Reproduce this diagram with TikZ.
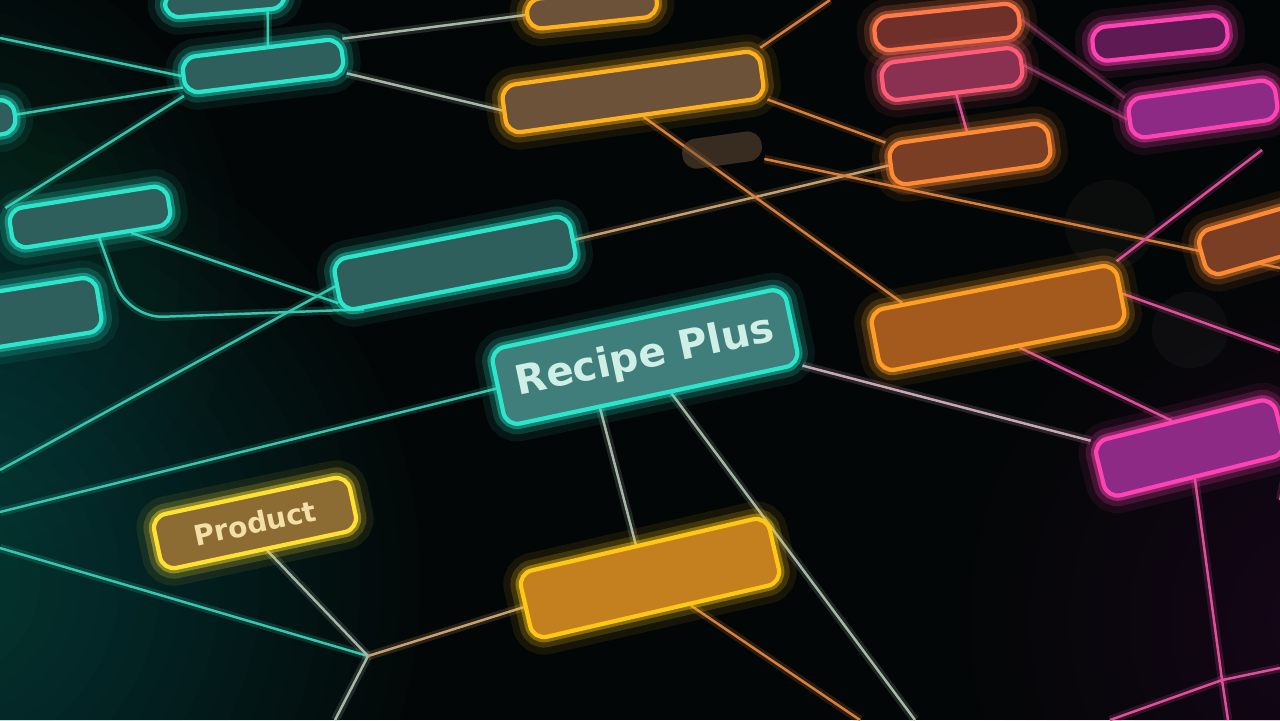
\documentclass[tikz,border=0pt]{standalone}
\usepackage{fontspec}
\setmainfont{DejaVu Sans}
\pgfdeclarelayer{back}
\pgfdeclarelayer{wires}
\pgfsetlayers{back,wires,main}
\definecolor{bgblack}{HTML}{030606}
\definecolor{haze}{HTML}{1A9A8A}
\definecolor{hazep}{HTML}{6A1060}
\definecolor{tealline}{HTML}{2CE6CC}
\definecolor{tealfill}{HTML}{3F7E7A}
\definecolor{tealdark}{HTML}{2F5F5C}
\definecolor{amber}{HTML}{FFB21E}
\definecolor{amberfill}{HTML}{6B5238}
\definecolor{orng}{HTML}{FFA024}
\definecolor{orngfill}{HTML}{A45A1C}
\definecolor{rorng}{HTML}{FF8A34}
\definecolor{rorngfill}{HTML}{7A3E24}
\definecolor{redor}{HTML}{FF7A48}
\definecolor{redorfill}{HTML}{6E3028}
\definecolor{salmon}{HTML}{FF5C78}
\definecolor{salmonfill}{HTML}{8A3050}
\definecolor{hotpink}{HTML}{FF42B4}
\definecolor{pinkfill}{HTML}{8C2A86}
\definecolor{pinkdimfill}{HTML}{5E1A52}
\definecolor{yel}{HTML}{FFE034}
\definecolor{yelfill}{HTML}{8C6C32}
\definecolor{gold}{HTML}{FFC814}
\definecolor{goldfill}{HTML}{C4801F}
\definecolor{wteal}{HTML}{36C8AE}
\definecolor{wgrey}{HTML}{A8B8A8}
\definecolor{wsand}{HTML}{C8A070}
\definecolor{worng}{HTML}{D8803C}
\definecolor{wpink}{HTML}{E0509A}
\definecolor{wrose}{HTML}{C8A8B4}
\tikzset{
  box/.style 2 args={rectangle, rounded corners=4pt, inner sep=0pt, draw=#1, fill=#2, line width=1.2pt,
    preaction={draw=#1, line width=10pt, draw opacity=.08},
    preaction={draw=#1, line width=6pt, draw opacity=.18},
    preaction={draw=#1, line width=3pt, draw opacity=.4}},
  wire/.style={draw=#1, line width=.7pt, preaction={draw=#1, line width=2.4pt, draw opacity=.18}},
  lbl/.style={text=#1, font=\bfseries}
}
\begin{document}
\begin{tikzpicture}[x=0.01cm,y=-0.01cm]
\useasboundingbox (0,0) rectangle (1280,720);
\begin{pgfonlayer}{back}
\fill[bgblack] (0,0) rectangle (1280,720);
\foreach \r in {0.2,0.4,...,4.8} \fill[haze,opacity=.018] (-60,580) circle (\r cm);
\foreach \r in {0.2,0.4,...,3.2} \fill[haze,opacity=.016] (-80,260) circle (\r cm);
\foreach \r in {0.2,0.4,...,3.6} \fill[hazep,opacity=.016] (1330,620) circle (\r cm);
\fill[gray!25!black,opacity=.3] (1110,225) circle (0.45cm);
\fill[gray!25!black,opacity=.3] (1190,330) circle (0.38cm);
\end{pgfonlayer}
\node[box={tealline}{tealfill},minimum width=3cm,minimum height=.78cm,rotate=12] (recipe)at(645,357)
  {\fontsize{11.5}{11.5}\selectfont\color[HTML]{CFEEE6}\bfseries Recipe Plus};
\node[box={tealline}{tealdark},minimum width=2.4cm,minimum height=.52cm,rotate=11] (cb)at(455,263){};
\node[box={tealline}{tealdark},minimum width=1.6cm,minimum height=.4cm,rotate=9] (lnote)at(90,217){};
\node[box={tealline}{tealdark},minimum width=1.5cm,minimum height=.55cm,rotate=9] (lpart)at(25,315){};
\node[box={tealline}{tealdark},minimum width=1.6cm,minimum height=.36cm,rotate=7] (tlteal)at(263,66){};
\node[box={tealline}{tealdark},minimum width=1.2cm,minimum height=.26cm,rotate=5] (ttop)at(225,0){};
\node[box={tealline}{tealdark},minimum width=.4cm,minimum height=.34cm,rotate=8] (ledge)at(-5,118){};
\node[box={amber}{amberfill},minimum width=2.6cm,minimum height=.48cm,rotate=8] (torange)at(633,92){};
\node[box={amber}{amberfill},minimum width=1.3cm,minimum height=.3cm,rotate=6] (tsmall)at(592,8){};
\node[rectangle,rounded corners=4pt,fill=amberfill,opacity=.5,minimum width=.8cm,minimum height=.3cm,rotate=8] (ghost)at(722,150){};
\node[box={orng}{orngfill},minimum width=2.5cm,minimum height=.62cm,rotate=11] (strem)at(998,318){};
\node[box={rorng}{rorngfill},minimum width=1.6cm,minimum height=.42cm,rotate=8] (rorange)at(970,154){};
\node[box={redor}{redorfill},minimum width=1.45cm,minimum height=.34cm,rotate=6] (rtop)at(947,27){};
\node[box={salmon}{salmonfill},minimum width=1.4cm,minimum height=.38cm,rotate=7] (rpink)at(952,74){};
\node[box={hotpink}{pinkdimfill},minimum width=1.35cm,minimum height=.34cm,rotate=6] (rmag)at(1160,38){};
\node[box={hotpink}{pinkfill},minimum width=1.48cm,minimum height=.4cm,rotate=8] (rmagb)at(1203,109){};
\node[box={rorng}{rorngfill},minimum width=1.1cm,minimum height=.46cm,rotate=16] (redge)at(1255,240){};
\node[box={hotpink}{pinkfill},minimum width=1.85cm,minimum height=.58cm,rotate=14] (mag)at(1190,448){};
\node[box={yel}{yelfill},minimum width=2cm,minimum height=.55cm,rotate=12] (product)at(255,523)
  {\fontsize{8}{8}\selectfont\color[HTML]{F5DFA8}\bfseries Product};
\node[box={gold}{goldfill},minimum width=2.55cm,minimum height=.68cm,rotate=13] (bottom)at(650,578){};
\coordinate (e1)at(0,470);
\coordinate (e2)at(0,512);
\coordinate (e3)at(915,720);
\coordinate (e4)at(0,548);
\coordinate (e5)at(335,720);
\coordinate (e6)at(860,720);
\coordinate (e7)at(1280,268);
\coordinate (e8)at(830,0);
\coordinate (e9)at(1262,150);
\coordinate (e10)at(1280,350);
\coordinate (e11)at(1228,720);
\coordinate (e12)at(1110,720);
\coordinate (e13)at(1280,668);
\coordinate (e14)at(1280,500);
\coordinate (e15)at(0,38);
\coordinate (j)at(368,656);
\coordinate (j2)at(1222,680);
\coordinate (kink)at(128,318);
\begin{pgfonlayer}{wires}
\draw[wire=wteal] (cb.west) -- (e1);
\draw[wire=wteal] (recipe.west) -- (e2);
\draw[wire=wteal] (cb.188) -- (lnote.-30);
\draw[wire=wteal,rounded corners=10pt] (lnote.-75) -- (kink) -- (cb.196);
\draw[wire=wteal] (tlteal.west) -- (e15);
\draw[wire=wteal] (tlteal.188) -- (ledge);
\draw[wire=wteal] (tlteal.south west) -- (lnote.north west);
\draw[wire=wteal] (ttop.-20) -- (tlteal.70);
\draw[wire=wteal] (e4) -- (j);
\draw[wire=wgrey] (recipe.-143) -- (bottom.100);
\draw[wire=wgrey] (recipe.-66) -- (e3);
\draw[wire=wrose] (recipe.south east) -- (mag.north west);
\draw[wire=wgrey] (product.-78) -- (j);
\draw[wire=wgrey] (j) -- (e5);
\draw[wire=wsand] (bottom.west) -- (j);
\draw[wire=worng] (bottom.-47) -- (e6);
\draw[wire=wgrey] (torange.west) -- (tlteal.-12);
\draw[wire=wgrey] (tlteal.12) -- (tsmall.west);
\draw[wire=wsand] (cb.east) -- (rorange.west);
\draw[wire=worng] (torange.south east) -- (rorange.north west);
\draw[wire=worng] (torange.-75) -- (strem.160);
\draw[wire=worng] (ghost) -- (e7);
\draw[wire=worng] (torange.north east) -- (e8);
\draw[wire=wpink] (strem.north east) -- (e9);
\draw[wire=wpink] (strem.-65) -- (mag.110);
\draw[wire=wpink] (strem.east) -- (e10);
\draw[wire=wpink] (mag.-95) -- (j2) -- (e11);
\draw[wire=wpink] (e12) -- (j2) -- (e13);
\draw[wire=wpink] (mag.south east) -- (e14);
\draw[wire=wpink] (rorange.north) -- (rpink.-85);
\draw[wire=wpink,opacity=.5] (rpink.east) -- (rmagb.west);
\draw[wire=wpink,opacity=.4] (rtop.east) -- (rmagb.north west);
\end{pgfonlayer}
\end{tikzpicture}
\end{document}
